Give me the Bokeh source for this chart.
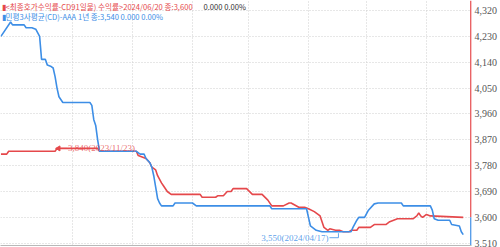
import math
import pandas as pd
from bokeh.plotting import figure
from bokeh.models import Range1d, FixedTicker, NumeralTickFormatter, Label
from bokeh.core.properties import value
from bokeh.embed import file_html
from bokeh.resources import INLINE

# ---------------- data ----------------
red_name = "<최종호가수익률-CD91일물) 수익률>2024/06/20 종:3,600"
red_change = "0.000 0.00%"
blue_name = "민평3사평균(CD)-AAA 1년 종:3,540"
blue_change = "0.000 0.00%"

red_dates = ["2023-10-25", "2023-10-28", "2023-10-29", "2023-11-22", "2023-11-23", "2023-12-14",
             "2023-12-15", "2024-01-03", "2024-01-04", "2024-01-06", "2024-01-08", "2024-01-10",
             "2024-01-11", "2024-01-13", "2024-01-14", "2024-01-16", "2024-01-17", "2024-01-19",
             "2024-01-21", "2024-02-05", "2024-02-06", "2024-02-13", "2024-02-14", "2024-02-17",
             "2024-02-19", "2024-02-21", "2024-02-22", "2024-02-29", "2024-03-03", "2024-03-08",
             "2024-03-11", "2024-03-13", "2024-03-19", "2024-03-22", "2024-03-23", "2024-03-27",
             "2024-03-30", "2024-04-01", "2024-04-04", "2024-04-07", "2024-04-09", "2024-04-11",
             "2024-04-12", "2024-04-15", "2024-04-17", "2024-04-19", "2024-04-22", "2024-04-23",
             "2024-04-26", "2024-04-27", "2024-05-03", "2024-05-05", "2024-05-11", "2024-05-13",
             "2024-05-17", "2024-05-25", "2024-05-27", "2024-05-28", "2024-05-29", "2024-05-30",
             "2024-06-01", "2024-06-03", "2024-06-20"]
red_vals = [3820, 3820, 3830, 3830, 3840, 3840,
            3830, 3830, 3815, 3810, 3805, 3790,
            3775, 3765, 3745, 3720, 3710, 3690,
            3680, 3680, 3670, 3670, 3675, 3675,
            3690, 3690, 3700, 3700, 3680, 3680,
            3660, 3640, 3640, 3650, 3650, 3635,
            3635, 3630, 3620, 3605, 3565, 3555,
            3560, 3555, 3555, 3550, 3550, 3555,
            3555, 3565, 3565, 3575, 3575, 3585,
            3595, 3595, 3605, 3615, 3605, 3600,
            3610, 3605, 3600]

blue_dates = ["2023-10-25", "2023-10-30", "2023-10-31", "2023-11-06", "2023-11-07", "2023-11-10",
              "2023-11-12", "2023-11-14", "2023-11-15", "2023-11-17", "2023-11-18", "2023-11-20",
              "2023-11-21", "2023-11-22", "2023-11-23", "2023-11-24", "2023-11-26", "2023-12-10",
              "2023-12-11", "2023-12-12", "2023-12-13", "2023-12-14", "2023-12-15", "2024-01-03",
              "2024-01-05", "2024-01-07", "2024-01-08", "2024-01-10", "2024-01-11", "2024-01-12",
              "2024-01-13", "2024-01-14", "2024-01-15", "2024-01-16", "2024-01-22", "2024-01-23",
              "2024-02-01", "2024-02-03", "2024-03-12", "2024-03-13", "2024-03-31", "2024-04-01",
              "2024-04-02", "2024-04-05", "2024-04-08", "2024-04-17", "2024-04-23", "2024-04-24",
              "2024-04-26", "2024-04-27", "2024-04-30", "2024-05-02", "2024-05-05", "2024-05-07",
              "2024-05-19", "2024-05-20", "2024-06-03", "2024-06-04", "2024-06-05", "2024-06-07",
              "2024-06-13", "2024-06-14", "2024-06-18", "2024-06-19", "2024-06-20"]
blue_vals = [4230, 4280, 4270, 4270, 4260, 4260,
             4255, 4230, 4150, 4150, 4130, 4125,
             4120, 4090, 4050, 4020, 4000, 4000,
             3990, 3940, 3920, 3870, 3830, 3830,
             3820, 3820, 3805, 3790, 3775, 3745,
             3705, 3665, 3650, 3640, 3640, 3650,
             3650, 3640, 3640, 3630, 3630, 3600,
             3570, 3555, 3550, 3550, 3550, 3565,
             3590, 3600, 3600, 3625, 3647, 3650,
             3650, 3640, 3640, 3625, 3595, 3590,
             3590, 3575, 3570, 3550, 3540]

red_max_date, red_max_val, red_max_text = "2023-11-23", 3840, "3,840(2023/11/23)"
blue_min_date, blue_min_val, blue_min_text = "2024-04-17", 3550, "3,550(2024/04/17)"
last_red_text = "3,600"
last_red_val = 3600

y_ticks = [3510, 3600, 3690, 3780, 3870, 3960, 4050, 4140, 4230, 4320]
month_ticks = ["2023-12-01", "2024-01-01", "2024-02-01", "2024-03-01",
               "2024-04-01", "2024-05-01", "2024-06-01"]

# ---------------- styling ----------------
RED = "#e5484b"
BLUE = "#3d8ee6"
FRAME_W = 471
FRAME_H = 245

x_start = pd.Timestamp("2023-10-24 18:40")
x_end = pd.Timestamp("2024-06-24 06:30")
y_start, y_end = 3502, 4355
ms_per_px = (x_end - x_start).total_seconds() * 1000 / FRAME_W
units_per_px = (y_end - y_start) / FRAME_H

p = figure(width=500, height=247, x_axis_type="datetime", y_axis_location="right",
           x_range=Range1d(x_start, x_end), y_range=Range1d(y_start, y_end),
           output_backend="svg", toolbar_location=None,
           min_border_left=0, min_border_top=0, min_border_bottom=2, min_border_right=29)
p.outline_line_color = None
p.background_fill_color = "white"
p.border_fill_color = "white"

# x axis: only a grey base line
p.xaxis.ticker = FixedTicker(ticks=[])
p.xaxis.axis_line_color = "#b8b8b8"
p.xaxis.major_tick_line_color = None
p.xaxis.minor_tick_line_color = None
p.xaxis.major_label_text_font_size = "0px"
p.xaxis.major_label_standoff = 0

# y axis on the right
p.yaxis.ticker = FixedTicker(ticks=y_ticks)
p.yaxis.formatter = NumeralTickFormatter(format="0,0")
p.yaxis.axis_line_color = None
p.yaxis.major_tick_line_color = None
p.yaxis.minor_tick_line_color = None
p.yaxis.major_tick_out = 0
p.yaxis.major_label_standoff = 3
p.yaxis.major_label_text_font = "Liberation Sans Narrow"
p.yaxis.major_label_text_font_size = "10px"
p.yaxis.major_label_text_color = "#555555"

# grids
p.ygrid.ticker = FixedTicker(ticks=y_ticks)
p.xgrid.ticker = FixedTicker(ticks=[pd.Timestamp(m).value // 10**6 for m in month_ticks])
for g in (p.xgrid, p.ygrid):
    g.grid_line_color = "#cfcfcf"
    g.grid_line_dash = "1 2"
    g.grid_line_width = 1

# series
rd = pd.to_datetime(red_dates)
bd = pd.to_datetime(blue_dates)
p.line(rd, red_vals, line_color=RED, line_width=1.6)
p.line(bd, blue_vals, line_color=BLUE, line_width=1.6)

# right axis line: red above the last red value, blue below
xe = x_end - pd.Timedelta(milliseconds=ms_per_px * 0.6)
p.segment(x0=[xe], y0=[last_red_val], x1=[xe], y1=[y_end], line_color=RED, line_width=1.5)
p.segment(x0=[xe], y0=[y_start], x1=[xe], y1=[last_red_val], line_color=BLUE, line_width=1.5)

# max annotation (red)
mx = pd.Timestamp(red_max_date)
p.segment(x0=[mx], y0=[red_max_val], x1=[mx + pd.Timedelta(milliseconds=ms_per_px * 10)],
          y1=[red_max_val], line_color=RED, line_width=1, line_alpha=0.8)
p.scatter([mx + pd.Timedelta(milliseconds=ms_per_px * 1.5)], [red_max_val], marker="triangle",
          size=5, angle=math.pi / 2, fill_color=RED, line_color=RED)
p.text([mx], [red_max_val], text=[red_max_text], x_offset=11, text_baseline="middle",
       text_font=value("Liberation Sans Narrow"), text_font_size="9px", text_color=RED,
       text_alpha=0.8)

# min annotation (blue)
mn = pd.Timestamp(blue_min_date)
y_txt = blue_min_val - 6 * units_per_px
p.line([mn - pd.Timedelta(milliseconds=ms_per_px * 10), mn - pd.Timedelta(milliseconds=ms_per_px * 1), mn - pd.Timedelta(milliseconds=ms_per_px * 1)],
       [y_txt, y_txt, blue_min_val - 1.5 * units_per_px], line_color=BLUE, line_width=1, line_alpha=0.8)
p.text([mn], [y_txt], text=[blue_min_text], x_offset=-11, text_align="right", text_baseline="middle",
       text_font=value("Liberation Sans Narrow"), text_font_size="9px", text_color=BLUE,
       text_alpha=0.85)

# last value tag on the axis
p.add_layout(Label(x=485, y=last_red_val, x_units="screen", y_units="data", text=last_red_text,
                   text_align="center", text_baseline="middle", text_font="Liberation Sans Narrow",
                   text_font_size="10px", text_color="#444444", background_fill_color="#dcdcdc",
                   padding=2, border_radius=3))

# small window icon at the top-right corner
p.add_layout(Label(x=496, y=y_end - 4 * units_per_px, x_units="screen", y_units="data", text="□",
                   text_align="center", text_baseline="middle", text_font="DejaVu Sans",
                   text_font_size="6px", text_color="#ffffff", background_fill_color="#777777",
                   padding=0))

# header legend
hy1 = y_end - 6 * units_per_px
hy2 = y_end - 16 * units_per_px
p.add_layout(Label(x=1, y=hy1, x_units="screen", y_units="data", text="▮" + red_name,
                   text_baseline="middle", text_font="Noto Sans CJK KR", text_font_size="7.6px",
                   text_color=RED))
p.add_layout(Label(x=203, y=hy1, x_units="screen", y_units="data", text=red_change,
                   text_baseline="middle", text_font="Noto Sans CJK KR", text_font_size="7.6px",
                   text_color="#333333"))
p.add_layout(Label(x=1, y=hy2, x_units="screen", y_units="data", text="▮" + blue_name + " " + blue_change,
                   text_baseline="middle", text_font="Noto Sans CJK KR", text_font_size="7.6px",
                   text_color=BLUE))

open("out.html", "w").write(file_html(p, INLINE))
